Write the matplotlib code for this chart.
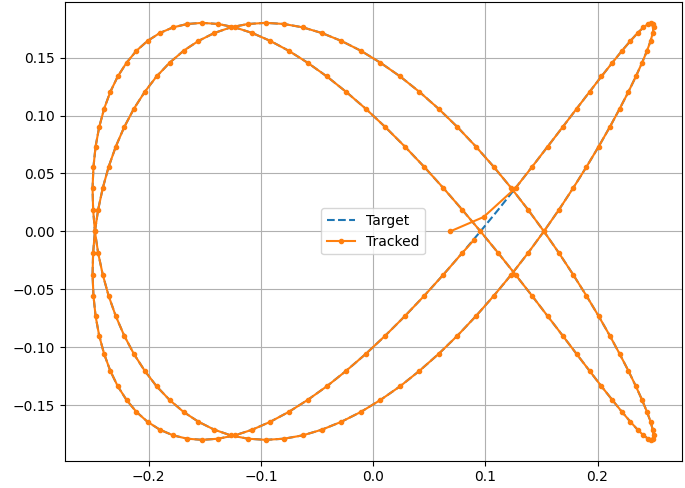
import matplotlib
matplotlib.use("Agg")
import matplotlib.pyplot as plt

# Target trajectory, values (one closed loop)
target_x = [
    0.0957, 0.1116, 0.1269, 0.1416, 0.1556, 0.1689, 0.1813, 0.1929, 0.2035, 0.2132,
    0.2218, 0.2293, 0.2357, 0.2409, 0.2450, 0.2479, 0.2495, 0.2500, 0.2492, 0.2473,
    0.2441, 0.2397, 0.2342, 0.2275, 0.2197, 0.2109, 0.2010, 0.1901, 0.1783, 0.1657,
    0.1522, 0.1380, 0.1231, 0.1076, 0.0916, 0.0752, 0.0584, 0.0413, 0.0240, 0.0065,
    -0.0109, -0.0283, -0.0456, -0.0626, -0.0793, -0.0957, -0.1116, -0.1269, -0.1416, -0.1556,
    -0.1689, -0.1813, -0.1929, -0.2035, -0.2132, -0.2218, -0.2293, -0.2357, -0.2409, -0.2450,
    -0.2479, -0.2495, -0.2500, -0.2492, -0.2473, -0.2441, -0.2397, -0.2342, -0.2275, -0.2197,
    -0.2109, -0.2010, -0.1901, -0.1783, -0.1657, -0.1522, -0.1380, -0.1231, -0.1076, -0.0916,
    -0.0752, -0.0584, -0.0413, -0.0240, -0.0065, 0.0109, 0.0283, 0.0456, 0.0626, 0.0793,
    0.0957, 0.1116, 0.1269, 0.1416, 0.1556, 0.1689, 0.1813, 0.1929, 0.2035, 0.2132,
    0.2218, 0.2293, 0.2357, 0.2409, 0.2450, 0.2479, 0.2495, 0.2500, 0.2492, 0.2473,
    0.2441, 0.2397, 0.2342, 0.2275, 0.2197, 0.2109, 0.2010, 0.1901, 0.1783, 0.1657,
    0.1522, 0.1380, 0.1231, 0.1076, 0.0916, 0.0752, 0.0584, 0.0413, 0.0240, 0.0065,
    -0.0109, -0.0283, -0.0456, -0.0626, -0.0793, -0.0957, -0.1116, -0.1269, -0.1416, -0.1556,
    -0.1689, -0.1813, -0.1929, -0.2035, -0.2132, -0.2218, -0.2293, -0.2357, -0.2409, -0.2450,
    -0.2479, -0.2495, -0.2500, -0.2492, -0.2473, -0.2441, -0.2397, -0.2342, -0.2275, -0.2197,
    -0.2109, -0.2010, -0.1901, -0.1783, -0.1657, -0.1522, -0.1380, -0.1231, -0.1076, -0.0916,
    -0.0752, -0.0584, -0.0413, -0.0240, -0.0065, 0.0109, 0.0283, 0.0456, 0.0626, 0.0793,
    0.0957,
]

target_y = [
    0.0000, 0.0188, 0.0374, 0.0556, 0.0732, 0.0900, 0.1058, 0.1204, 0.1338, 0.1456,
    0.1559, 0.1644, 0.1712, 0.1761, 0.1790, 0.1800, 0.1790, 0.1761, 0.1712, 0.1644,
    0.1559, 0.1456, 0.1338, 0.1204, 0.1058, 0.0900, 0.0732, 0.0556, 0.0374, 0.0188,
    0.0000, -0.0188, -0.0374, -0.0556, -0.0732, -0.0900, -0.1058, -0.1204, -0.1338, -0.1456,
    -0.1559, -0.1644, -0.1712, -0.1761, -0.1790, -0.1800, -0.1790, -0.1761, -0.1712, -0.1644,
    -0.1559, -0.1456, -0.1338, -0.1204, -0.1058, -0.0900, -0.0732, -0.0556, -0.0374, -0.0188,
    0.0000, 0.0188, 0.0374, 0.0556, 0.0732, 0.0900, 0.1058, 0.1204, 0.1338, 0.1456,
    0.1559, 0.1644, 0.1712, 0.1761, 0.1790, 0.1800, 0.1790, 0.1761, 0.1712, 0.1644,
    0.1559, 0.1456, 0.1338, 0.1204, 0.1058, 0.0900, 0.0732, 0.0556, 0.0374, 0.0188,
    0.0000, -0.0188, -0.0374, -0.0556, -0.0732, -0.0900, -0.1058, -0.1204, -0.1338, -0.1456,
    -0.1559, -0.1644, -0.1712, -0.1761, -0.1790, -0.1800, -0.1790, -0.1761, -0.1712, -0.1644,
    -0.1559, -0.1456, -0.1338, -0.1204, -0.1058, -0.0900, -0.0732, -0.0556, -0.0374, -0.0188,
    0.0000, 0.0188, 0.0374, 0.0556, 0.0732, 0.0900, 0.1058, 0.1204, 0.1338, 0.1456,
    0.1559, 0.1644, 0.1712, 0.1761, 0.1790, 0.1800, 0.1790, 0.1761, 0.1712, 0.1644,
    0.1559, 0.1456, 0.1338, 0.1204, 0.1058, 0.0900, 0.0732, 0.0556, 0.0374, 0.0188,
    0.0000, -0.0188, -0.0374, -0.0556, -0.0732, -0.0900, -0.1058, -0.1204, -0.1338, -0.1456,
    -0.1559, -0.1644, -0.1712, -0.1761, -0.1790, -0.1800, -0.1790, -0.1761, -0.1712, -0.1644,
    -0.1559, -0.1456, -0.1338, -0.1204, -0.1058, -0.0900, -0.0732, -0.0556, -0.0374, -0.0188,
    0.0000,
]

# Tracked trajectory: an initial transient, then it follows the target
tracked_start_x = [0.0688, 0.0985]
tracked_start_y = [0.0000, 0.0124]
tracked_end_x = [0.0896]
tracked_end_y = [-0.0078]

tracked_x = tracked_start_x + target_x[2:180] + tracked_end_x
tracked_y = tracked_start_y + target_y[2:180] + tracked_end_y

fig = plt.figure(figsize=(6.85, 4.88), dpi=100)
ax = fig.add_axes([64.5 / 685, (488 - 460.7) / 488, 617.2 / 685, 458.7 / 488])

ax.plot(target_x, target_y, linestyle="--", color="C0", label="Target")
ax.plot(tracked_x, tracked_y, marker=".", linestyle="-", color="C1", label="Tracked")

ax.grid(True)
ax.legend(loc="center")

fig.savefig("out.png", dpi=100)
